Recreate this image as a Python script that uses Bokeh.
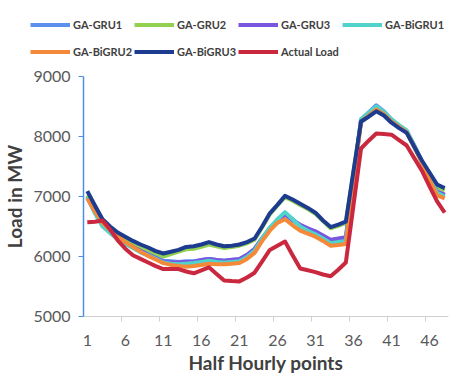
from bokeh.plotting import figure
from bokeh.models import Legend, LegendItem, FixedTicker, Range1d
from bokeh.layouts import column
from bokeh.embed import file_html
from bokeh.resources import INLINE

x = list(range(1, 49))
ga_gru1 = [7000, 6750, 6530, 6420, 6320, 6240, 6170, 6100, 6050, 5990, 5930, 5920, 5910, 5920, 5920, 5940,
           5960, 5940, 5930, 5940, 5950, 6020, 6120, 6310, 6470, 6600, 6720, 6620, 6520, 6460, 6400, 6330,
           6260, 6270, 6300, 7300, 8280, 8400, 8520, 8420, 8280, 8180, 8090, 7850, 7580, 7330, 7080, 7020]
ga_gru2 = [7020, 6800, 6600, 6470, 6370, 6300, 6230, 6170, 6110, 6050, 6000, 6040, 6080, 6120, 6130, 6160,
           6200, 6170, 6140, 6160, 6180, 6220, 6280, 6490, 6700, 6850, 6990, 6930, 6860, 6790, 6710, 6590,
           6470, 6510, 6560, 7400, 8240, 8340, 8440, 8370, 8250, 8160, 8070, 7820, 7580, 7370, 7160, 7100]
ga_gru3 = [6980, 6740, 6520, 6410, 6310, 6230, 6160, 6090, 6030, 5970, 5910, 5900, 5900, 5910, 5910, 5940,
           5960, 5940, 5930, 5945, 5960, 6030, 6130, 6300, 6450, 6580, 6700, 6600, 6530, 6470, 6420, 6350,
           6280, 6300, 6320, 7300, 8270, 8380, 8490, 8400, 8270, 8170, 8080, 7840, 7570, 7320, 7080, 7030]
ga_bigru1 = [6990, 6720, 6500, 6390, 6290, 6210, 6140, 6070, 6020, 5960, 5900, 5880, 5870, 5880, 5890, 5910,
             5930, 5910, 5900, 5910, 5920, 5990, 6100, 6300, 6480, 6620, 6740, 6620, 6500, 6430, 6370, 6300,
             6220, 6240, 6260, 7280, 8290, 8400, 8500, 8410, 8290, 8190, 8100, 7850, 7590, 7320, 7060, 7000]
ga_bigru2 = [6970, 6750, 6560, 6440, 6330, 6240, 6160, 6080, 6010, 5950, 5890, 5860, 5840, 5830, 5840, 5860,
             5880, 5870, 5870, 5880, 5890, 5960, 6060, 6260, 6430, 6560, 6620, 6520, 6430, 6380, 6330, 6260,
             6180, 6190, 6210, 7230, 8250, 8350, 8450, 8370, 8250, 8160, 8070, 7830, 7560, 7280, 7020, 6970]
ga_bigru3 = [7090, 6850, 6620, 6500, 6400, 6330, 6260, 6200, 6150, 6090, 6050, 6080, 6110, 6160, 6170, 6200,
             6240, 6200, 6170, 6180, 6200, 6240, 6300, 6500, 6720, 6860, 7010, 6950, 6880, 6810, 6730, 6600,
             6490, 6530, 6580, 7420, 8250, 8330, 8420, 8350, 8230, 8140, 8060, 7830, 7600, 7400, 7200, 7140]
actual = [6570, 6580, 6600, 6450, 6270, 6130, 6020, 5960, 5900, 5840, 5790, 5790, 5790, 5750, 5720, 5770,
          5820, 5710, 5600, 5590, 5585, 5650, 5730, 5920, 6110, 6180, 6250, 6020, 5800, 5770, 5740, 5700,
          5670, 5780, 5900, 6850, 7800, 7930, 8050, 8040, 8030, 7940, 7850, 7640, 7430, 7170, 6920, 6730]

names = ["GA-GRU1", "GA-GRU2", "GA-GRU3", "GA-BiGRU1", "GA-BiGRU2", "GA-BiGRU3", "Actual Load"]
series = [ga_gru1, ga_gru2, ga_gru3, ga_bigru1, ga_bigru2, ga_bigru3, actual]
colors = ["#5b8ff0", "#92d050", "#7a55e0", "#4fd3cb", "#f5893a", "#1d3b8f", "#c9283f"]
x_ticks = [1, 6, 11, 16, 21, 26, 31, 36, 41, 46]
y_ticks = [5000, 6000, 7000, 8000, 9000]

FONT = "Lato"
GREY = "#595959"
DARK = "#404040"

# ---- legend strip (its lines fall outside its own empty frame; only the legend shows) ----
lg = figure(width=458, height=66, output_backend="svg", toolbar_location=None,
            x_range=Range1d(0, 0.001), y_range=Range1d(0, 0.001),
            min_border=0, x_axis_type=None, y_axis_type=None)
lg.outline_line_color = None
lg.grid.visible = False
lg_renderers = [lg.line(x, s, line_color=c, line_width=4) for s, c in zip(series, colors)]
legend = Legend(items=[LegendItem(label=n, renderers=[r]) for n, r in zip(names, lg_renderers)],
                ncols=4, orientation="horizontal", location=(30, 2),
                glyph_width=40, glyph_height=25, label_height=25, label_width=59,
                label_standoff=3, spacing=2, padding=0, margin=0,
                label_text_font=FONT, label_text_font_size="11px",
                label_text_font_style="bold", label_text_color=DARK,
                border_line_color=None, background_fill_alpha=0)
lg.add_layout(legend, "center")

# ---- main chart ----
p = figure(width=458, height=310, output_backend="svg", toolbar_location=None,
           x_range=Range1d(0.5, 48.5), y_range=Range1d(5000, 9000),
           min_border_left=78, min_border_right=10, min_border_top=10, min_border_bottom=60)
p.outline_line_color = None
p.grid.visible = False

for s, c in zip(series, colors):
    p.line(x, s, line_color=c, line_width=4, line_join="round")

p.xaxis.ticker = FixedTicker(ticks=x_ticks, minor_ticks=[5.5 + 5 * i for i in range(9)])
p.xaxis.major_tick_out = 0
p.xaxis.major_tick_in = 0
p.xaxis.minor_tick_out = 5
p.xaxis.minor_tick_in = 0
p.xaxis.minor_tick_line_color = "#d0d0d0"
p.xaxis.axis_line_color = "#d0d0d0"
p.xaxis.axis_line_width = 1
p.xaxis.major_label_standoff = 13
p.xaxis.axis_label = "Half Hourly points"
p.xaxis.axis_label_standoff = 2

p.yaxis.ticker = FixedTicker(ticks=y_ticks)
p.yaxis.minor_tick_line_color = None
p.yaxis.axis_line_color = "#4a8fe8"
p.yaxis.major_tick_line_color = "#4a8fe8"
p.yaxis.axis_line_width = 1.5
p.yaxis.major_tick_out = 5
p.yaxis.major_tick_in = 0
p.yaxis.major_label_standoff = 8
p.yaxis.axis_label = "Load in MW"
p.yaxis.axis_label_standoff = 4

for ax in (p.xaxis, p.yaxis):
    ax.major_label_text_font = FONT
    ax.major_label_text_font_size = "16px"
    ax.major_label_text_color = GREY
    ax.axis_label_text_font = FONT
    ax.axis_label_text_font_size = "19px"
    ax.axis_label_text_font_style = "bold"
    ax.axis_label_text_color = DARK

layout = column(column(lg), p, spacing=0)
open("out.html", "w").write(file_html(layout, INLINE))
